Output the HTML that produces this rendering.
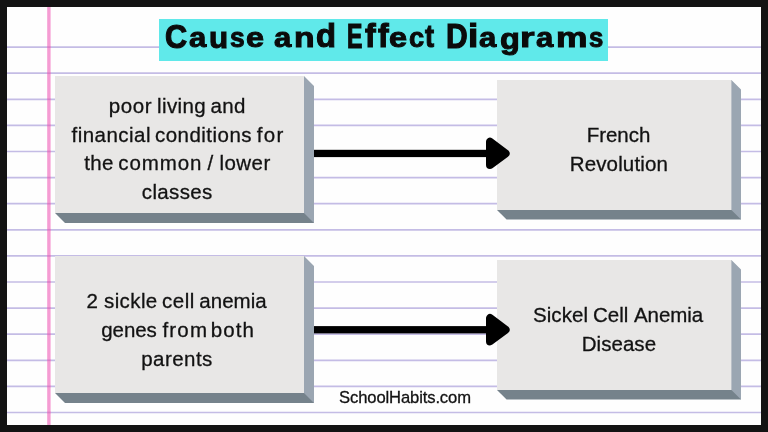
<!DOCTYPE html>
<html>
<head>
<meta charset="utf-8">
<title>Cause and Effect Diagrams</title>
<style>
  html, body { margin: 0; padding: 0; }
  body { width: 768px; height: 432px; overflow: hidden; background: #131313; font-family: "Liberation Sans", sans-serif; }
  #stage { position: fixed; left: 0; top: 0; width: 768px; height: 432px; overflow: hidden; background: #131313; }
  #paper { position: absolute; left: 7px; top: 7px; width: 754px; height: 418px; background: #fefefe; }
  svg#art { position: absolute; left: 0; top: 0; width: 768px; height: 432px; }
  #txt { position: absolute; left: 0; top: 0; width: 768px; height: 432px; will-change: transform; transform: translateZ(0); }
  .ln { position: absolute; left: 0; width: 768px; height: 24px; font-size: 20.5px; line-height: 24px; color: #121212; white-space: nowrap; -webkit-text-stroke: 0.3px #121212; }
  .ln span { position: absolute; top: 0; white-space: nowrap; }
  .ft { font-size: 16.6px; }
  #title { position: absolute; left: 159px; top: 19px; width: 449.3px; height: 41.8px; background: #60e9ea; }
  #title span { position: absolute; white-space: nowrap; font-weight: bold; font-size: 35.6px; line-height: 42px; height: 42px; color: #0b0b0b; -webkit-text-stroke: 1.2px #0b0b0b; transform-origin: 0 0; }
</style>
</head>
<body>
<div id="stage">
  <div id="paper"></div>
  <svg id="art" viewBox="0 0 768 432" width="768" height="432">
    <!-- ruled lines -->
    <g stroke="#c4bce5" stroke-width="1.7">
      <line x1="7" x2="761" y1="47.1" y2="47.1"/>
      <line x1="7" x2="761" y1="73.2" y2="73.2"/>
      <line x1="7" x2="761" y1="99.3" y2="99.3"/>
      <line x1="7" x2="761" y1="125.4" y2="125.4"/>
      <line x1="7" x2="761" y1="151.5" y2="151.5"/>
      <line x1="7" x2="761" y1="177.6" y2="177.6"/>
      <line x1="7" x2="761" y1="203.7" y2="203.7"/>
      <line x1="7" x2="761" y1="229.8" y2="229.8"/>
      <line x1="7" x2="761" y1="255.9" y2="255.9"/>
      <line x1="7" x2="761" y1="282.0" y2="282.0"/>
      <line x1="7" x2="761" y1="308.1" y2="308.1"/>
      <line x1="7" x2="761" y1="334.2" y2="334.2"/>
      <line x1="7" x2="761" y1="360.3" y2="360.3"/>
      <line x1="7" x2="761" y1="386.4" y2="386.4"/>
      <line x1="7" x2="761" y1="412.5" y2="412.5"/>
    </g>
    <!-- margin line -->
    <rect x="47.2" y="7" width="3.4" height="418" fill="#f59cd3"/>
    <g fill="#d97fc8">
      <rect x="47.2" y="46.25" width="3.4" height="1.7"/>
      <rect x="47.2" y="72.35" width="3.4" height="1.7"/>
      <rect x="47.2" y="98.45" width="3.4" height="1.7"/>
      <rect x="47.2" y="124.55" width="3.4" height="1.7"/>
      <rect x="47.2" y="150.65" width="3.4" height="1.7"/>
      <rect x="47.2" y="176.75" width="3.4" height="1.7"/>
      <rect x="47.2" y="202.85" width="3.4" height="1.7"/>
      <rect x="47.2" y="228.95" width="3.4" height="1.7"/>
      <rect x="47.2" y="255.05" width="3.4" height="1.7"/>
      <rect x="47.2" y="281.15" width="3.4" height="1.7"/>
      <rect x="47.2" y="307.25" width="3.4" height="1.7"/>
      <rect x="47.2" y="333.35" width="3.4" height="1.7"/>
      <rect x="47.2" y="359.45" width="3.4" height="1.7"/>
      <rect x="47.2" y="385.55" width="3.4" height="1.7"/>
      <rect x="47.2" y="411.65" width="3.4" height="1.7"/>
    </g>

    <!-- box 1 -->
    <polygon points="55,213 65,223 314,223 314,213" fill="#75828b"/>
    <polygon points="301,76 304,76 314,86 314,223 304,213 301,213" fill="#9ba6b2"/>
    <rect x="55" y="76" width="249" height="137" fill="#e8e7e6"/>
    <!-- box 2 -->
    <polygon points="55,393 65,403 314,403 314,393" fill="#75828b"/>
    <polygon points="301,256 304,256 314,266 314,403 304,393 301,393" fill="#9ba6b2"/>
    <rect x="55" y="256" width="249" height="137" fill="#e8e7e6"/>
    <!-- box 3 -->
    <polygon points="497,210 506.6,219.6 741,219.6 741,210" fill="#75828b"/>
    <polygon points="728.4,80 731.4,80 741,89.6 741,219.6 731.4,210 728.4,210" fill="#9ba6b2"/>
    <rect x="497" y="80" width="234.4" height="130" fill="#e8e7e6"/>
    <!-- box 4 -->
    <polygon points="497,390 506.6,399.6 741,399.6 741,390" fill="#75828b"/>
    <polygon points="728.4,260 731.4,260 741,269.6 741,399.6 731.4,390 728.4,390" fill="#9ba6b2"/>
    <rect x="497" y="260" width="234.4" height="130" fill="#e8e7e6"/>

    <!-- arrows -->
    <g fill="#000" stroke="#000">
      <rect x="314" y="149.8" width="176" height="7.3" stroke="none"/>
      <polygon points="490,141.75 490,165.1 505.6,153.43" stroke-width="8" stroke-linejoin="round"/>
      <rect x="314" y="326.1" width="176" height="7.3" stroke="none"/>
      <polygon points="490,318.05 490,341.4 505.6,329.73" stroke-width="8" stroke-linejoin="round"/>
    </g>
  </svg>

  <div id="txt">
  <div id="title"><span style="left:5.95px;top:-2.92px;transform:scale(0.861,0.957)">C</span><span style="left:29.96px;top:2.40px;transform:scale(0.875,0.800)">a</span><span style="left:50.28px;top:2.23px;transform:scale(0.881,0.805)">u</span><span style="left:70.63px;top:2.40px;transform:scale(0.743,0.800)">s</span><span style="left:86.57px;top:2.40px;transform:scale(0.911,0.800)">e</span> <span style="left:114.96px;top:2.40px;transform:scale(0.875,0.800)">a</span><span style="left:134.94px;top:2.43px;transform:scale(0.946,0.798)">n</span><span style="left:157.21px;top:-2.65px;transform:scale(0.919,0.949)">d</span> <span style="left:187.96px;top:-3.10px;transform:scale(0.649,0.963)">E</span><span style="left:206.00px;top:-2.66px;transform:scale(0.900,0.950)">f</span><span style="left:218.50px;top:-2.66px;transform:scale(0.900,0.950)">f</span><span style="left:230.31px;top:2.40px;transform:scale(0.914,0.800)">e</span><span style="left:249.83px;top:2.40px;transform:scale(0.765,0.800)">c</span><span style="left:266.19px;top:0.48px;transform:scale(0.767,0.857)">t</span> <span style="left:287.02px;top:-3.10px;transform:scale(0.843,0.963)">D</span><span style="left:308.92px;top:-1.59px;transform:scale(1.042,0.918)">i</span><span style="left:319.96px;top:2.40px;transform:scale(0.875,0.800)">a</span><span style="left:340.91px;top:1.78px;transform:scale(0.914,0.847)">g</span><span style="left:361.16px;top:2.43px;transform:scale(1.053,0.798)">r</span><span style="left:376.56px;top:2.40px;transform:scale(0.875,0.800)">a</span><span style="left:396.51px;top:2.43px;transform:scale(0.996,0.798)">m</span><span style="left:429.74px;top:2.40px;transform:scale(0.724,0.800)">s</span></div>

  <div class="ln" style="top:93.90px;"><span style="left:108.75px; letter-spacing:0.583px;">poor</span> <span style="left:157.00px; letter-spacing:0.400px;">living</span> <span style="left:210.50px; letter-spacing:0.375px;">and</span></div>
  <div class="ln" style="top:122.90px;"><span style="left:71.50px; letter-spacing:0.469px;">financial</span> <span style="left:155.00px; letter-spacing:0.472px;">conditions</span> <span style="left:256.75px; letter-spacing:1.375px;">for</span></div>
  <div class="ln" style="top:151.40px;"><span style="left:84.25px; letter-spacing:0.375px;">the</span> <span style="left:118.25px; letter-spacing:0.900px;">common</span> <span style="left:207.50px;">/</span> <span style="left:219.50px; letter-spacing:0.438px;">lower</span></div>
  <div class="ln" style="top:179.90px;"><span style="left:141.75px; letter-spacing:0.375px;">classes</span></div>
  <div class="ln" style="top:289.15px;"><span style="left:86.50px;">2</span> <span style="left:104.00px; letter-spacing:0.400px;">sickle</span> <span style="left:162.00px; letter-spacing:0.500px;">cell</span> <span style="left:199.25px; letter-spacing:0.050px;">anemia</span></div>
  <div class="ln" style="top:317.90px;"><span style="left:101.25px; letter-spacing:-0.062px;">genes</span> <span style="left:162.50px; letter-spacing:1.167px;">from</span> <span style="left:210.75px; letter-spacing:1.083px;">both</span></div>
  <div class="ln" style="top:346.65px;"><span style="left:141.25px; letter-spacing:0.458px;">parents</span></div>
  <div class="ln" style="top:122.90px;"><span style="left:586.75px; letter-spacing:-0.050px;">French</span></div>
  <div class="ln" style="top:151.65px;"><span style="left:569.75px; letter-spacing:0.139px;">Revolution</span></div>
  <div class="ln" style="top:303.40px;"><span style="left:533.00px; letter-spacing:0.050px;">Sickel</span> <span style="left:593.00px; letter-spacing:0.000px;">Cell</span> <span style="left:634.00px; letter-spacing:-0.050px;">Anemia</span></div>
  <div class="ln" style="top:332.15px;"><span style="left:581.75px; letter-spacing:0.042px;">Disease</span></div>
  <div class="ln ft" style="top:385.65px;"><span style="left:339.05px; letter-spacing:-0.120px;">SchoolHabits.com</span></div>
  </div>
</div>
</body>
</html>
